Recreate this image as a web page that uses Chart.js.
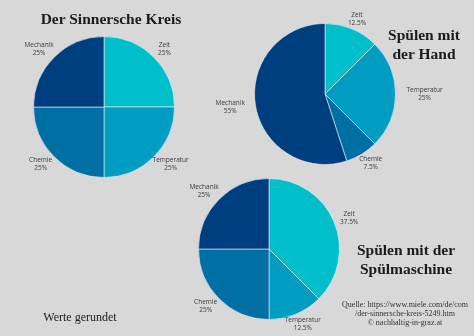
<!DOCTYPE html>
<html>
<head>
<meta charset="utf-8">
<script src="https://cdn.jsdelivr.net/npm/chart.js@4/dist/chart.umd.min.js"></script>
<style>
  body { margin: 0; background: #d9d9d9; }
  #stage { position: relative; width: 474px; height: 336px; background: #d8d8d8; overflow: hidden; }
  canvas.pie { position: absolute; left: 0; top: 0; }
  .t { position: absolute; text-align: center; color: #1b1b1b; font-family: "Liberation Serif", "DejaVu Serif", serif; white-space: nowrap; }
  .title { font-weight: bold; font-size: 15.5px; line-height: 19px; }
</style>
</head>
<body>
<div id="stage">
  <canvas id="c1" class="pie" width="474" height="336"></canvas>
  <canvas id="c2" class="pie" width="474" height="336"></canvas>
  <canvas id="c3" class="pie" width="474" height="336"></canvas>

  <div class="t title" style="left:20px; top:9px; width:182px;">Der Sinnersche Kreis</div>
  <div class="t title" style="left:374px; top:25px; width:100px;">Spülen mit<br>der Hand</div>
  <div class="t title" style="left:345px; top:240px; width:122px;">Spülen mit der<br>Spülmaschine</div>
  <div class="t" style="left:30px; top:310px; width:100px; font-size:12px;">Werte gerundet</div>
  <div class="t" style="left:340px; top:300px; width:130px; font-size:8px; line-height:9px; color:#333;">Quelle: https://www.miele.com/de/com<br>/der-sinnersche-kreis-5249.htm<br>© nachhaltig-in-graz.at</div>
</div>

<script>
// categories, clockwise from 12 o'clock
const categories = ['Zeit', 'Temperatur', 'Chemie', 'Mechanik'];
const colors = ['#00bfcb', '#009cc1', '#006fa4', '#003f7f'];

// values in percent
const sinnerKreis = [25, 25, 25, 25];
const handSpuelen = [12.5, 25, 7.5, 55];
const maschineSpuelen = [37.5, 12.5, 25, 25];

// label strings as shown
const sinnerLabels = ['25%', '25%', '25%', '25%'];
const handLabels = ['12.5%', '25%', '7.5%', '55%'];
const maschineLabels = ['37.5%', '12.5%', '25%', '25%'];

// draws "name / xx%" outside each slice
const outsideLabels = {
    id: 'outsideLabels',
    afterDatasetsDraw(chart, args, opts) {
        const ctx = chart.ctx;
        const meta = chart.getDatasetMeta(0);
        ctx.save();
        ctx.font = '6.5px "Open Sans", "Noto Sans", sans-serif';
        ctx.fillStyle = '#3a3a3a';
        ctx.textAlign = 'center';
        ctx.textBaseline = 'middle';
        meta.data.forEach((arc, i) => {
            const a = (arc.startAngle + arc.endAngle) / 2;
            const r = arc.outerRadius + 11;
            const name = chart.data.labels[i];
            const half = ctx.measureText(name).width / 2;
            const x = arc.x + Math.cos(a) * (r + half * Math.abs(Math.cos(a)));
            const y = arc.y + Math.sin(a) * r;
            ctx.fillText(name, x, y - 4);
            ctx.fillText(opts.texts[i], x, y + 4);
        });
        ctx.restore();
    }
};

function makePie(id, values, texts, cx, cy, r) {
    new Chart(document.getElementById(id), {
        type: 'pie',
        data: {
            labels: categories,
            datasets: [{
                data: values,
                backgroundColor: colors,
                borderColor: 'rgba(235,240,245,0.6)',
                borderWidth: 1
            }]
        },
        options: {
            responsive: false,
            animation: false,
            layout: {
                padding: { left: cx - r, top: cy - r, right: 474 - cx - r, bottom: 336 - cy - r }
            },
            plugins: {
                legend: { display: false },
                tooltip: { enabled: false },
                outsideLabels: { texts: texts }
            }
        },
        plugins: [outsideLabels]
    });
}

makePie('c1', sinnerKreis, sinnerLabels, 104, 107, 71);
makePie('c2', handSpuelen, handLabels, 325, 94, 71);
makePie('c3', maschineSpuelen, maschineLabels, 269, 249, 71);
</script>
</body>
</html>
